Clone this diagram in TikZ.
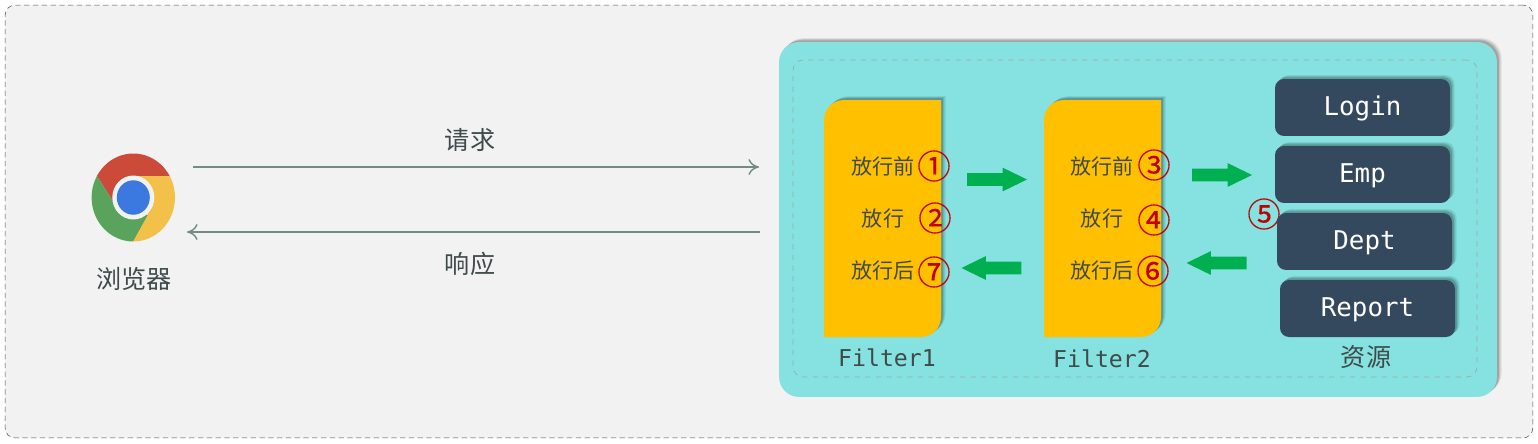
\documentclass[tikz,border=0pt]{standalone}
\usepackage{fontspec}
\usepackage{xcolor}
\usetikzlibrary{shadows, shapes.arrows, arrows.meta}
\setmainfont{Noto Sans CJK SC}
\setmonofont{DejaVu Sans Mono}
\newfontfamily\stepfont[FakeBold=0.15]{Noto Sans CJK SC}

\definecolor{panelgray}{HTML}{F2F2F2}
\definecolor{panelteal}{HTML}{85E2E0}
\definecolor{filteramber}{HTML}{FFC000}
\definecolor{resnavy}{HTML}{34495E}
\definecolor{flowgreen}{HTML}{00B050}
\definecolor{stepred}{HTML}{C00000}
\definecolor{linegray}{HTML}{748A84}
\definecolor{textgray}{HTML}{3F4A4A}
\definecolor{chromered}{HTML}{CC4A3A}
\definecolor{chromegreen}{HTML}{5AA35C}
\definecolor{chromeyellow}{HTML}{F3C14A}
\definecolor{chromeblue}{HTML}{3B78E0}

\tikzset{
    softshadow/.style={
        drop shadow={shadow xshift=2.6pt, shadow yshift=2.2pt, fill=black, opacity=.08},
        drop shadow={shadow xshift=1.9pt, shadow yshift=1.6pt, fill=black, opacity=.12},
        drop shadow={shadow xshift=1.1pt, shadow yshift=1pt, fill=black, opacity=.16}},
    cjklabel/.style={text=textgray, font=\fontsize{14.3}{16}\selectfont},
    passlabel/.style={text=textgray, font=\fontsize{12}{14}\selectfont},
    monolabel/.style={text=textgray, font=\ttfamily\fontsize{13.2}{16}\selectfont},
    stepnum/.style={text=stepred, inner sep=0pt, font=\stepfont\fontsize{19}{20}\selectfont},
    resbox/.style={rectangle, rounded corners=0.18cm, fill=resnavy, text=white, softshadow,
        minimum width=3.5cm, minimum height=1.14cm, inner sep=0pt, text height=0.37cm, text depth=0.06cm,
        font=\ttfamily\fontsize{14.7}{16}\selectfont},
    flowarrow/.style={single arrow, fill=flowgreen, inner sep=0.12cm, minimum width=0.46cm,
        minimum height=1.2cm, single arrow head extend=0.11cm, single arrow head indent=0pt,
        single arrow tip angle=52},
    filterbody/.style={fill=filteramber, softshadow},
    msgline/.style={draw=linegray, line width=0.8pt, -{To[length=6pt, width=9pt]}}
}

\begin{document}
\begin{tikzpicture}[x=0.02cm, y=-0.02cm]
    \useasboundingbox (0,0) rectangle (1538,443);

    % panels
    \node[rectangle, draw=black!70, densely dashed, line width=0.3pt, fill=panelgray, rounded corners=0.2cm,
        minimum width=30.56cm, minimum height=8.66cm] (outer) at (769,221.5) {};
    \node[rectangle, fill=panelteal, rounded corners=0.4cm, softshadow,
        minimum width=14.36cm, minimum height=7.1cm] (teal) at (1138,219.5) {};
    \node[rectangle, draw=gray!70, dashed, line width=0.4pt, rounded corners=0.2cm,
        minimum width=13.68cm, minimum height=6.34cm] (inner) at (1135,218.5) {};

    % browser icon
    \begin{scope}
        \clip (133.3,197.5) ellipse [x radius=0.834cm, y radius=0.88cm];
        \fill[chromered] (90,150) -- (180,150) -- (180,176) -- (133,176) -- (116,206) -- (97,176) -- (90,170) -- cycle;
        \fill[chromegreen] (97,176) -- (116,206) -- (148,215) -- (133,242) -- (85,245) -- (85,170) -- cycle;
        \fill[chromeyellow] (133,176) -- (182,176) -- (182,245) -- (133,242) -- (148,215) -- cycle;
    \end{scope}
    \fill[white!95!black] (133.3,197.5) ellipse [x radius=0.42cm, y radius=0.44cm];
    \fill[chromeblue] (133.3,197.5) ellipse [x radius=0.33cm, y radius=0.345cm];
    \node[cjklabel] (browser) at (134,279) {浏览器};

    % request and response
    \coordinate (reqstart) at (193,167);
    \coordinate (reqend) at (759,167);
    \coordinate (respstart) at (760,232);
    \coordinate (respend) at (187,232);
    \draw[msgline] (reqstart) -- (reqend);
    \draw[msgline] (respstart) -- (respend);
    \node[cjklabel] (request) at (470,140) {请求};
    \node[cjklabel] (response) at (470,264) {响应};

    % filters
    \fill[filterbody] (824,337) [rounded corners=0.4cm] -- (824,100) [sharp corners] -- (941,100) [rounded corners=0.4cm] -- (941,337) [sharp corners] -- (824,337) -- cycle;
    \fill[filterbody] (1044,337) [rounded corners=0.4cm] -- (1044,100) [sharp corners] -- (1161,100) [rounded corners=0.4cm] -- (1161,337) [sharp corners] -- (1044,337) -- cycle;

    \node[passlabel] (before1) at (883,166) {放行前};
    \node[passlabel] (pass1) at (883,218) {放行};
    \node[passlabel] (after1) at (883,270) {放行后};
    \node[passlabel] (before2) at (1102,166) {放行前};
    \node[passlabel] (pass2) at (1102,218) {放行};
    \node[passlabel] (after2) at (1102,270) {放行后};

    \node[stepnum] (step1) at (934,166) {①};
    \node[stepnum] (step2) at (935,218) {②};
    \node[stepnum] (step7) at (934,272) {⑦};
    \node[stepnum] (step3) at (1154,165) {③};
    \node[stepnum] (step4) at (1154,220) {④};
    \node[stepnum] (step6) at (1153,271) {⑥};
    \node[stepnum] (step5) at (1264,214) {⑤};

    \node[monolabel] (filter1) at (887,358) {Filter1};
    \node[monolabel] (filter2) at (1102,359) {Filter2};

    % green arrows
    \node[flowarrow] (flow1) at (990.5,179.5) {};
    \node[flowarrow, shape border rotate=180] (flow2) at (998,268) {};
    \node[flowarrow] (flow3) at (1215.5,175) {};
    \node[flowarrow, shape border rotate=180] (flow4) at (1223,263) {};

    % resources
    \node[resbox] (login) at (1362.5,107.5) {Login};
    \node[resbox] (emp) at (1362.5,174.5) {Emp};
    \node[resbox] (dept) at (1364.5,241.5) {Dept};
    \node[resbox] (report) at (1367.5,308.5) {Report};
    \node[cjklabel] (resource) at (1366,357) {资源};
\end{tikzpicture}
\end{document}
